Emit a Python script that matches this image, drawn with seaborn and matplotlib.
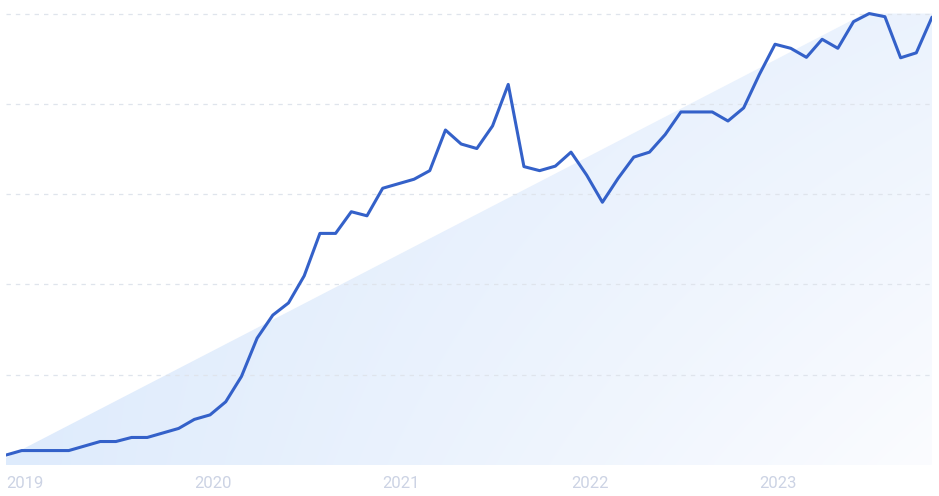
import matplotlib

matplotlib.use("Agg")

import matplotlib.pyplot as plt
import numpy as np
import pandas as pd
import seaborn as sns
from matplotlib.patches import Polygon

# monthly series, Jan 2019 .. Dec 2023 (relative scale, 0-100)
values = [
    2.2, 3.2, 3.2, 3.2, 3.2, 4.2, 5.2, 5.2, 6.1, 6.1, 7.1, 8.1,
    10.1, 11.1, 14.0, 19.6, 28.1, 33.2, 35.9, 41.9, 51.3, 51.3, 56.1, 55.2,
    61.3, 62.3, 63.3, 65.2, 74.2, 71.1, 70.1, 75.1, 84.3, 66.1, 65.2, 66.2,
    69.3, 64.2, 58.2, 63.5, 68.2, 69.3, 73.2, 78.2, 78.2, 78.2, 76.2, 79.1,
    86.5, 93.2, 92.3, 90.3, 94.3, 92.3, 98.2, 100.0, 99.3, 90.2, 91.3, 99.2,
]
year_labels = ["2019", "2020", "2021", "2022", "2023"]
year_start_index = [0, 12, 24, 36, 48]
grid_values = [20, 40, 60, 80, 100]
# decorative wedge behind the line: height at first and last month
wedge_values = [1.6, 107.7]

df = pd.DataFrame({"month_index": np.arange(len(values)), "value": values})
last = len(values) - 1
y_top = 103.0
cap = grid_values[-1]

sns.set_theme(style="white")
plt.rcParams["font.family"] = ["Roboto", "DejaVu Sans"]

fig = plt.figure(figsize=(9.39, 4.96), dpi=100)
ax = fig.add_axes([6 / 939, 31 / 496, 926 / 939, 465 / 496])

# gradient wedge, capped at the top grid line
h, w = 200, 400
u = np.linspace(0, 1, w)[None, :]
v = np.linspace(0, 1, h)[:, None]
t = np.clip(u * (1 - 0.55 * v), 0, 1)[..., None]
c0 = np.array([222, 235, 252]) / 255
c1 = np.array([251, 252, 255]) / 255
grad = c0 * (1 - t) + c1 * t
img = ax.imshow(grad, extent=[0, last, 0, y_top], origin="lower",
                aspect="auto", zorder=0.1, interpolation="bilinear")
x_cap = last * (cap - wedge_values[0]) / (wedge_values[1] - wedge_values[0])
wedge = Polygon([(0, 0), (0, wedge_values[0]), (x_cap, cap), (last, cap), (last, 0)],
                closed=True, transform=ax.transData)
img.set_clip_path(wedge)

sns.lineplot(data=df, x="month_index", y="value", color="#3461c9",
             linewidth=2.2, ax=ax, zorder=3)

ax.set_xlim(0, last)
ax.set_ylim(0, y_top)
ax.set_yticks(grid_values)
ax.set_yticklabels([])
ax.yaxis.grid(True, color="#dfe4ec", linestyle=(0, (3.5, 4)), linewidth=0.9)
ax.xaxis.grid(False)
ax.set_axisbelow(False)
for line in ax.get_ygridlines():
    line.set_zorder(1)

ax.set_xticks(year_start_index)
ax.set_xticklabels(year_labels, ha="left", fontsize=12, color="#ccd3e4")
ax.tick_params(axis="x", length=0, pad=8)
ax.tick_params(axis="y", length=0)
ax.set_xlabel("")
ax.set_ylabel("")
for s in ax.spines.values():
    s.set_visible(False)
ax.patch.set_alpha(0)

fig.savefig("out.png", dpi=100)
